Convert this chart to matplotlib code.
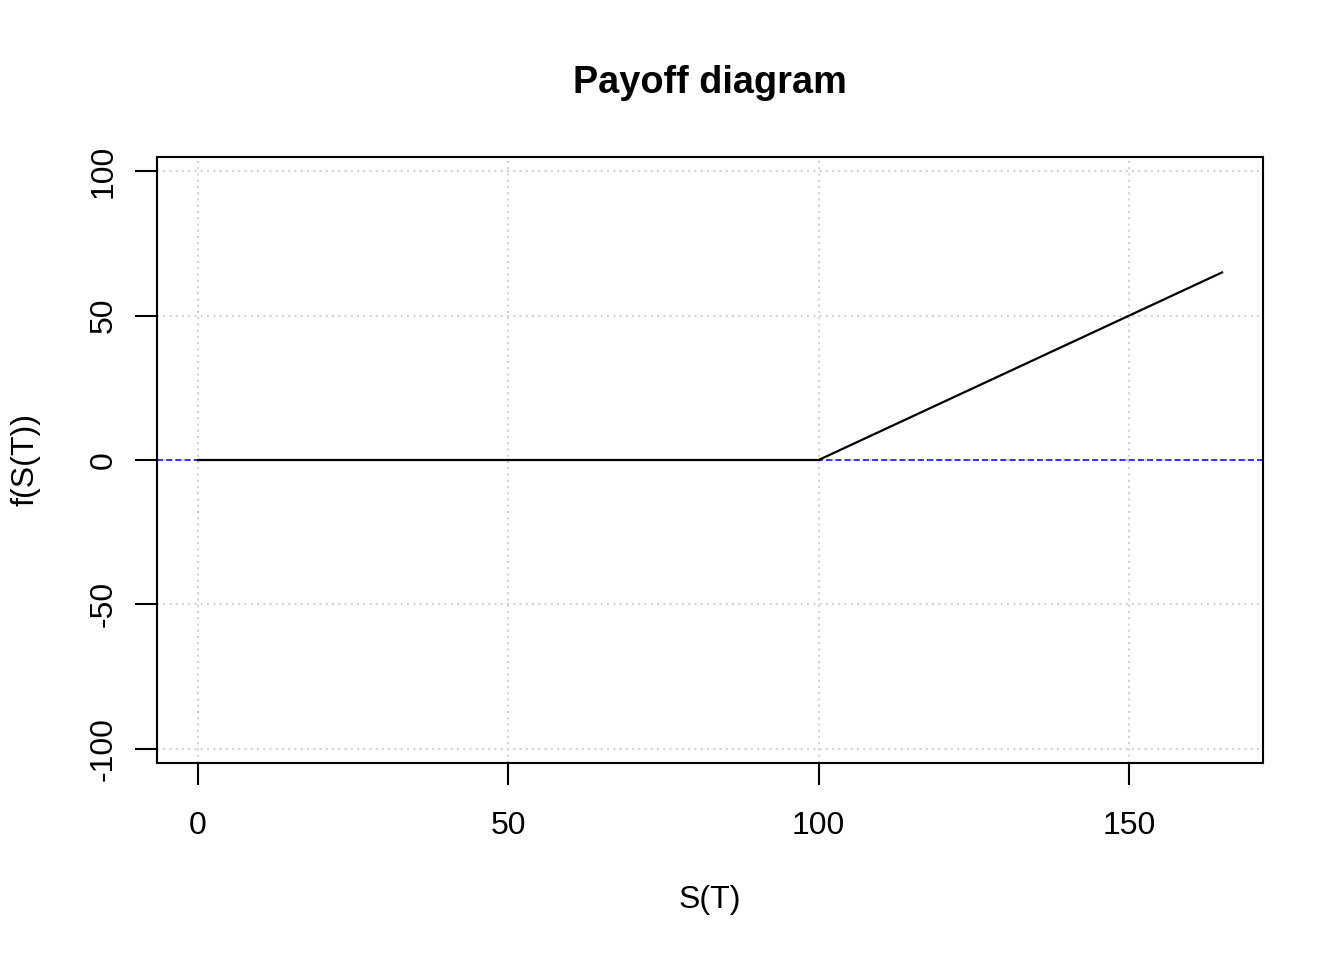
import numpy as np
import matplotlib
matplotlib.use('Agg')
from matplotlib import pyplot as plt

plt.rcParams['font.family'] = ['Liberation Sans', 'DejaVu Sans']

# payoff of a long call with strike 100
strike = 100
s_points = [0, 100, 165]
payoff_points = [0, 0, 65]
x_ticks = [0, 50, 100, 150]
y_ticks = [-100, -50, 0, 50, 100]

fig = plt.figure(figsize=(13.44, 9.6), dpi=100)
ax = fig.add_axes([157 / 1344, 1 - 763 / 960, 1106 / 1344, 606 / 960])

# grid behind everything
for xv in x_ticks:
    ax.axvline(xv, color='#d3d3d3', lw=1.5, ls=(0, (1, 2)), zorder=0)
for yv in y_ticks:
    ax.axhline(yv, color='#d3d3d3', lw=1.5, ls=(0, (1, 2)), zorder=0)

ax.axhline(0, color='blue', lw=1.1, ls=(0, (4, 2)), zorder=1)
ax.plot(s_points, payoff_points, color='black', lw=1.6, zorder=2)

ax.set_xlim(-6.6, 171.6)
ax.set_ylim(-105, 105)
ax.set_xticks(x_ticks)
ax.set_yticks(y_ticks)
ax.set_yticklabels([str(v) for v in y_ticks], rotation=90, va='center')

for sp in ax.spines.values():
    sp.set_linewidth(1.5)
ax.tick_params(axis='both', direction='out', length=15.5, width=1.5,
               labelsize=23)
ax.tick_params(axis='x', pad=19)
ax.tick_params(axis='y', pad=12)

ax.set_title('Payoff diagram', fontsize=27.3, fontweight='bold', pad=46)
ax.set_xlabel('S(T)', fontsize=23, va='center')
ax.set_ylabel('f(S(T))', fontsize=23, va='center')
ax.xaxis.set_label_coords(0.5, -0.226)
ax.yaxis.set_label_coords(-0.119, 0.5)

fig.savefig('out.png', dpi=100)
